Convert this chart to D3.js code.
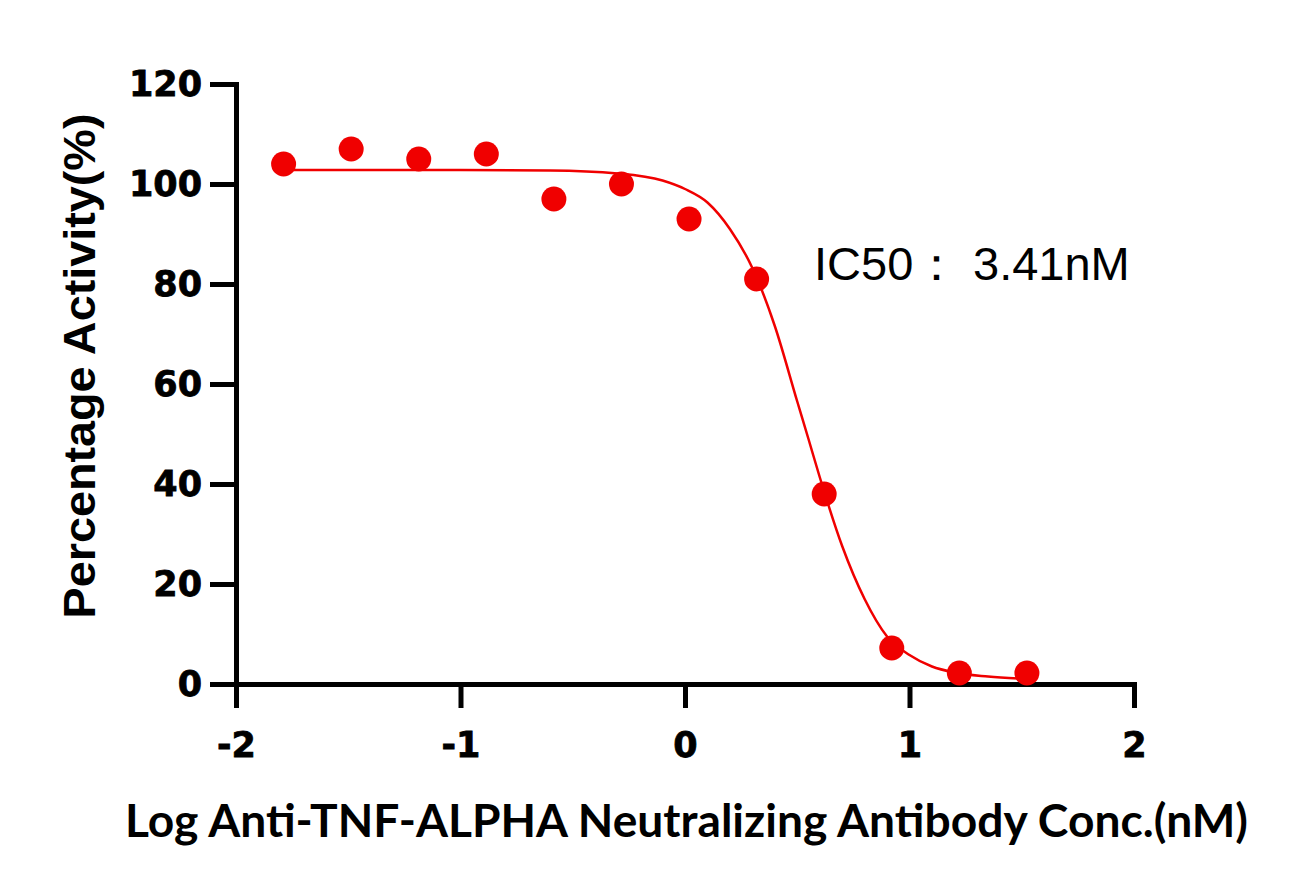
<!DOCTYPE html>
<html>
<head>
<meta charset="utf-8">
<script src="https://cdn.jsdelivr.net/npm/d3@7"></script>
<style>
  html, body { margin: 0; padding: 0; background: #fff; }
  svg { display: block; }
</style>
</head>
<body>
<svg id="chart" width="1292" height="891"></svg>
<script>
// Measured points: log10 concentration (nM) and percentage activity
const logConc = [-1.788, -1.487, -1.186, -0.885, -0.584, -0.283, 0.018, 0.319, 0.620, 0.921, 1.222, 1.523];
const activity = [104, 107, 105, 106, 97, 100, 93, 81, 38, 7.2, 2.2, 2.2];

// Fitted curve
const curveX = [-1.788, -1.5, -1.0, -0.6, -0.3, -0.1, 0.0, 0.1, 0.2, 0.3, 0.4, 0.5, 0.55, 0.6, 0.7, 0.8, 0.9, 1.0, 1.1, 1.2, 1.35, 1.523];
const curveY = [102.8, 102.8, 102.8, 102.7, 102.1, 100.7, 99.0, 96.3, 91.0, 83.2, 71.6, 56.5, 49.0, 41.4, 27.6, 17.0, 9.5, 5.8, 3.5, 2.3, 1.5, 1.0];

const xTicks = [-2, -1, 0, 1, 2];
const yTicks = [0, 20, 40, 60, 80, 100, 120];
const xTitle = "Log Anti-TNF-ALPHA Neutralizing Antibody Conc.(nM)";
const yTitle = "Percentage Activity(%)";
const icLabel = "IC50：";
const icValue = "3.41nM";

const svg = d3.select("#chart");
const x = d3.scaleLinear().domain([-2, 2]).range([236, 1134]);
const y = d3.scaleLinear().domain([0, 120]).range([684, 84]);

const red = "#f00000";

// Axes
const xAxis = svg.append("g")
  .attr("transform", `translate(0,${y(0)})`)
  .call(d3.axisBottom(x).tickValues(xTicks).tickFormat(d3.format("d")).tickSize(24).tickSizeOuter(0).tickPadding(24));
const yAxis = svg.append("g")
  .attr("transform", `translate(${x(-2)},0)`)
  .call(d3.axisLeft(y).tickValues(yTicks).tickFormat(d3.format("d")).tickSize(26).tickSizeOuter(0).tickPadding(8));

[xAxis, yAxis].forEach(g => {
  g.select(".domain").attr("stroke", "#000").attr("stroke-width", 5).attr("stroke-linecap", "square");
  g.selectAll(".tick line").attr("stroke", "#000").attr("stroke-width", 5);
  g.selectAll(".tick text")
    .attr("fill", "#000")
    .attr("stroke", "#000")
    .attr("stroke-width", 0.8)
    .style("font-family", "'DejaVu Sans', sans-serif")
    .style("font-weight", "bold")
    .style("font-size", "35px");
});
xAxis.selectAll(".tick text").text(d => d < 0 ? "-" + Math.abs(d) : d);

// Curve
const pts = curveX.map((v, i) => [v, curveY[i]]);
svg.append("path")
  .datum(pts)
  .attr("fill", "none")
  .attr("stroke", red)
  .attr("stroke-width", 2.5)
  .attr("d", d3.line().x(d => x(d[0])).y(d => y(d[1])).curve(d3.curveMonotoneX));

// Points
svg.append("g").selectAll("circle")
  .data(logConc.map((v, i) => [v, activity[i]]))
  .join("circle")
  .attr("cx", d => x(d[0]))
  .attr("cy", d => y(d[1]))
  .attr("r", 12.5)
  .attr("fill", red);

// IC50 annotation
svg.append("text")
  .attr("x", 814).attr("y", 280)
  .style("font-family", "'Liberation Sans', Arial, sans-serif")
  .style("font-size", "47px")
  .attr("fill", "#000")
  .text(icLabel);
svg.append("text")
  .attr("x", 973).attr("y", 280)
  .style("font-family", "'Liberation Sans', Arial, sans-serif")
  .style("font-size", "47px")
  .attr("fill", "#000")
  .text(icValue);

// Axis titles
svg.append("text")
  .attr("x", 125).attr("y", 837)
  .attr("textLength", 1123)
  .attr("lengthAdjust", "spacingAndGlyphs")
  .style("font-family", "Lato, 'Open Sans', sans-serif")
  .style("font-weight", "bold")
  .style("font-size", "45px")
  .attr("fill", "#000")
  .text(xTitle);

svg.append("text")
  .attr("transform", "translate(95,366) rotate(-90)")
  .attr("text-anchor", "middle")
  .attr("textLength", 505)
  .attr("lengthAdjust", "spacingAndGlyphs")
  .style("font-family", "'Liberation Sans', Arial, sans-serif")
  .style("font-weight", "bold")
  .style("font-size", "44px")
  .attr("fill", "#000")
  .text(yTitle);
</script>
</body>
</html>
